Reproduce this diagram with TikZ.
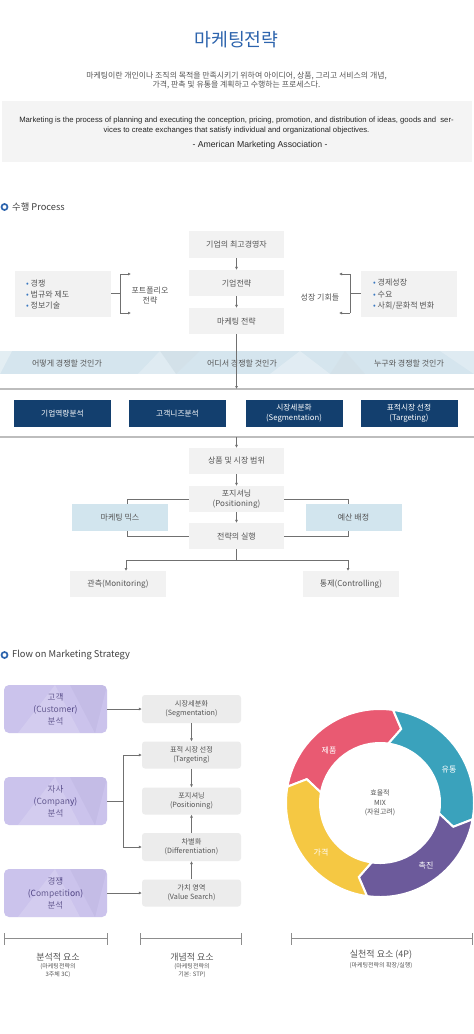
\documentclass[tikz,border=0pt]{standalone}
\usepackage{fontspec}
\setmainfont{Noto Sans CJK KR}
\newfontfamily\arial{Liberation Sans}
\usetikzlibrary{arrows.meta,calc}
\pgfdeclarelayer{bgzero}
\pgfdeclarelayer{bgone}
\pgfsetlayers{bgzero,bgone,main}
\definecolor{titleblue}{HTML}{2D64AD}
\definecolor{boxgray}{HTML}{F2F2F2}
\definecolor{quotegray}{HTML}{F4F4F4}
\definecolor{flowgray}{HTML}{ECECEC}
\definecolor{txtgray}{HTML}{555555}
\definecolor{linegray}{HTML}{707070}
\definecolor{sepgray}{HTML}{BDBDBD}
\definecolor{bandblue}{HTML}{D5E5EE}
\definecolor{navy}{HTML}{133F6E}
\definecolor{lightblue}{HTML}{D2E5EE}
\definecolor{purp}{HTML}{CBC3EC}
\definecolor{purptext}{HTML}{4B3F80}
\definecolor{bulletblue}{HTML}{3A78C0}
\definecolor{ringred}{HTML}{E95A72}
\definecolor{ringteal}{HTML}{3AA2BC}
\definecolor{ringpurple}{HTML}{6C5A9B}
\definecolor{ringyellow}{HTML}{F5C843}
\begin{document}
\begin{tikzpicture}[x=1pt,y=-1pt,
  gbox/.style={fill=boxgray, minimum width=95pt, minimum height=26pt, inner sep=0pt, align=center, text=txtgray, font=\fontsize{8}{10}\selectfont},
  navybox/.style={fill=navy, minimum width=97pt, minimum height=27pt, inner sep=0pt, align=center, text=white, font=\fontsize{7.7}{9.5}\selectfont},
  lbbox/.style={fill=lightblue, minimum width=96pt, minimum height=27pt, inner sep=0pt, align=center, text=txtgray, font=\fontsize{8}{10}\selectfont},
  fbox/.style={fill=flowgray, rounded corners=3pt, minimum width=99pt, minimum height=27pt, inner sep=0pt, align=center, text=txtgray, font=\fontsize{7.2}{9}\selectfont},
  pbox/.style={fill=purp, rounded corners=5pt, minimum width=103pt, minimum height=48pt, inner sep=0pt, align=center, text=purptext, font=\fontsize{8.5}{12}\selectfont},
  plain/.style={inner sep=0pt, align=center, text=txtgray, font=\fontsize{8}{10}\selectfont},
  conn/.style={draw=linegray, line width=0.6pt},
  arr/.style={conn, -{Latex[length=3pt,width=3pt]}},
  sepline/.style={draw=sepgray, line width=1.2pt},
  brk/.style={draw=linegray!80, line width=0.7pt},
  ringlbl/.style={inner sep=0pt, text=white, font=\fontsize{8}{10}\selectfont},
  hdr/.style={inner sep=0pt, anchor=west, text=black!75, font=\fontsize{9.3}{11}\selectfont}
]
\begin{pgfonlayer}{bgzero}
\fill[white] (0,0) rectangle (474,1034);
\end{pgfonlayer}
\useasboundingbox (0,0) rectangle (474,1034);

% ---------- header ----------
\node[inner sep=0pt, text=titleblue, font=\fontsize{18.3}{21}\selectfont] (title) at (236.5,40) {마케팅전략};
\node[plain, font=\fontsize{7.9}{9}\selectfont] (desc) at (236.5,80) {마케팅이란 개인이나 조직의 목적을 만족시키기 위하여 아이디어, 상품, 그리고 서비스의 개념,\\가격, 판촉 및 유통을 계획하고 수행하는 프로세스다.};
\fill[quotegray] (2,101) rectangle (472,162);
\node[plain, text=black!85, font=\arial\fontsize{7.7}{9.2}\selectfont] (quote) at (236.5,125.5) {Marketing is the process of planning and executing the conception, pricing, promotion, and distribution of ideas, goods and \ ser-\\vices to create exchanges that satisfy individual and organizational objectives.};
\node[plain, text=black!85, font=\arial\fontsize{8.7}{10}\selectfont] (assoc) at (260,145) {- American Marketing Association -};

% ---------- section 1 ----------
\draw[titleblue, line width=1.7pt] (4.5,207) circle (3pt);
\node[hdr] (h1) at (12,207) {수행 Process};

\node[gbox, minimum height=27pt] (ceo) at (236.5,244.5) {기업의 최고경영자};
\node[gbox] (corp) at (236.5,283) {기업전략};
\node[gbox] (mkt) at (236.5,321) {마케팅 전략};

\node[gbox, minimum width=96pt, minimum height=46pt] (lbox) at (63,294) {};
\node[plain, anchor=west, align=left, font=\fontsize{8}{11.3}\selectfont] (ltxt) at (26,294.5) {\textcolor{bulletblue}{•} 경쟁\\\textcolor{bulletblue}{•} 법규와 제도\\\textcolor{bulletblue}{•} 정보기술};
\node[gbox, minimum width=96pt, minimum height=46pt] (rbox) at (409,294) {};
\node[plain, anchor=west, align=left, font=\fontsize{8}{11.3}\selectfont] (rtxt) at (373,294.5) {\textcolor{bulletblue}{•} 경제성장\\\textcolor{bulletblue}{•} 수요\\\textcolor{bulletblue}{•} 사회/문화적 변화};

\node[plain, font=\fontsize{8}{10}\selectfont] (port) at (150,295) {포트폴리오\\전략};
\node[plain] (grow) at (320,297) {성장 기회들};

\coordinate (lj) at (120,293);
\coordinate (lt) at (120,274);
\coordinate (lb) at (120,313);
\coordinate (lta) at (131,274);
\coordinate (lba) at (131,313);
\draw[conn] (lbox.east |- lj) -- (lj);
\draw[conn] (lt) -- (lb);
\draw[arr] (lt) -- (lta);
\draw[arr] (lb) -- (lba);

\coordinate (rj) at (350,293);
\coordinate (rt) at (350,274);
\coordinate (rb) at (350,313);
\coordinate (rta) at (339,274);
\coordinate (rba) at (339,313);
\draw[conn] (rbox.west |- rj) -- (rj);
\draw[conn] (rt) -- (rb);
\draw[arr] (rt) -- (rta);
\draw[arr] (rb) -- (rba);

\draw[arr] (ceo) -- (corp);
\draw[arr] (corp) -- (mkt);

% band
\begin{pgfonlayer}{bgzero}
\fill[bandblue] (0,351) rectangle (474,374);
\begin{scope}
\clip (0,351) rectangle (474,374);
\fill[white, opacity=0.35] (0,351) -- (12,351) -- (0,374) -- cycle;
\fill[white, opacity=0.25] (138,374) -- (160,351) -- (176,374) -- cycle;
\fill[black!20, opacity=0.12] (160,351) -- (200,351) -- (176,374) -- cycle;
\fill[white, opacity=0.3] (300,351) -- (330,374) -- (270,374) -- cycle;
\fill[black!20, opacity=0.12] (330,374) -- (345,351) -- (365,374) -- cycle;
\fill[white, opacity=0.25] (440,351) -- (474,351) -- (474,374) -- cycle;
\end{scope}
\end{pgfonlayer}
\node[plain] (how) at (67,363) {어떻게 경쟁할 것인가};
\node[plain] (where) at (242,363) {어디서 경쟁할 것인가};
\node[plain] (who) at (409,363) {누구와 경쟁할 것인가};

\coordinate (l1) at (236.5,389);
\coordinate (l2) at (236.5,437);
\draw[sepline] (0,389) -- (474,389);
\draw[sepline] (0,437) -- (474,437);
\draw[arr] (mkt) -- (l1);

\node[navybox] (n1) at (62.5,413.5) {기업역량분석};
\node[navybox] (n2) at (177.5,413.5) {고객니즈분석};
\node[navybox] (n3) at (294,413.5) {시장세분화\\(Segmentation)};
\node[navybox] (n4) at (409,413.5) {표적시장 선정\\(Targeting)};

% ---------- section 2 ----------
\node[gbox] (scope) at (236.5,461) {상품 및 시장 범위};
\node[gbox] (pos) at (236.5,499) {포지셔닝\\(Positioning)};
\node[gbox] (exe) at (236.5,536) {전략의 실행};
\node[lbbox] (mix) at (120,517.5) {마케팅 믹스};
\node[lbbox] (budget) at (353.5,517.5) {예산 배정};
\node[gbox, minimum width=96pt] (mon) at (118,584) {관측(Monitoring)};
\node[gbox, minimum width=96pt] (ctrl) at (351,584) {통제(Controlling)};

\draw[arr] (l2) -- (scope);
\draw[arr] (scope) -- (pos);
\draw[arr] (pos) -- (exe);

\coordinate (brL) at (127,517);
\coordinate (brR) at (348,517);
\begin{pgfonlayer}{bgone}
\draw[conn] (pos.west) -| (brL) |- (exe.west);
\draw[conn] (pos.east) -| (brR) |- (exe.east);
\end{pgfonlayer}

\coordinate (jn) at (236.5,560);
\coordinate (monT) at (126,571);
\coordinate (ctrlT) at (348,571);
\draw[conn] (exe) -- (jn);
\draw[arr] (jn) -| (monT);
\draw[arr] (jn) -| (ctrlT);

% ---------- section 3 ----------
\draw[titleblue, line width=1.7pt] (4.5,655) circle (3pt);
\node[hdr] (h2) at (12,655) {Flow on Marketing Strategy};

\node[pbox] (cust) at (55.5,709) {고객\\(Customer)\\분석};
\node[pbox] (comp) at (55.5,801) {자사\\(Company)\\분석};
\node[pbox] (compet) at (55.5,893) {경쟁\\(Competition)\\분석};
\foreach \yy in {685,777,869}{
  \begin{scope}
  \clip[rounded corners=5pt] (4,\yy) rectangle (107,\yy+48);
  \fill[white, opacity=0.16] (18,\yy+48) -- (55,\yy) -- (80,\yy+48) -- cycle;
  \fill[purptext, opacity=0.05] (70,\yy) -- (95,\yy+48) -- (107,\yy) -- cycle;
  \end{scope}
}

\node[fbox, minimum height=28pt] (seg) at (191.5,709) {시장세분화\\(Segmentation)};
\node[fbox] (tgt) at (191.5,755) {표적 시장 선정\\(Targeting)};
\node[fbox] (posf) at (191.5,801) {포지셔닝\\(Positioning)};
\node[fbox, minimum height=28pt] (diff) at (191.5,847) {차별화\\(Differentiation)};
\node[fbox] (val) at (191.5,893) {가치 영역\\(Value Search)};

\draw[arr] (cust) -- (seg);
\draw[arr] (seg) -- (tgt);
\draw[arr] (tgt) -- (posf);
\draw[arr] (diff) -- (posf);
\draw[arr] (val) -- (diff);
\draw[arr] (compet) -- (val);

\coordinate (cj) at (123,801);
\coordinate (cjt) at (123,755);
\coordinate (cjb) at (123,847);
\draw[conn] (comp) -- (cj);
\draw[conn] (cjt) -- (cjb);
\draw[arr] (cjt) -- (tgt);
\draw[arr] (cjb) -- (diff);

% ring
\begin{scope}[shift={(380,803)}, yscale=-1]
\foreach \s/\e/\c in {170/82/ringred, 82/-10/ringteal, -10/-98/ringpurple, 262/170/ringyellow}{
  \fill[\c, draw=white, line width=2pt, line join=miter]
    (\s:94) arc[start angle=\s, end angle=\e, radius=94]
    -- ({\e-8}:77) -- (\e:60)
    arc[start angle=\e, end angle=\s, radius=60]
    -- ({\s-8}:77) -- cycle;
}
\end{scope}
\node[ringlbl] (r1) at (329,750) {제품};
\node[ringlbl] (r2) at (449,770) {유통};
\node[ringlbl] (r3) at (426,865) {촉진};
\node[ringlbl] (r4) at (321,852) {가격};
\node[plain, font=\fontsize{7}{9.5}\selectfont] (center) at (380,803) {효율적\\MIX\\(자원고려)};

% brackets
\coordinate (b1a) at (4,938);
\coordinate (b1b) at (107,938);
\coordinate (b2a) at (140,938);
\coordinate (b2b) at (241,938);
\coordinate (b3a) at (291,938);
\coordinate (b3b) at (472,938);
\foreach \p/\q in {b1a/b1b,b2a/b2b,b3a/b3b}{
  \draw[brk] (\p) -- (\q);
  \draw[brk] ($(\p)+(0,-5)$) -- ($(\p)+(0,7)$);
  \draw[brk] ($(\q)+(0,-5)$) -- ($(\q)+(0,7)$);
}
\node[plain, font=\fontsize{9}{10}\selectfont] (k1) at (58,957) {분석적 요소};
\node[plain, font=\fontsize{6}{8.3}\selectfont] (k1s) at (58,970.5) {(마케팅전략의\\3주체 3C)};
\node[plain, font=\fontsize{9}{10}\selectfont] (k2) at (192,957) {개념적 요소};
\node[plain, font=\fontsize{6}{8.3}\selectfont] (k2s) at (192,970.5) {(마케팅전략의\\기본: STP)};
\node[plain, font=\fontsize{9}{10}\selectfont] (k3) at (381,955) {실천적 요소 (4P)};
\node[plain, font=\fontsize{6}{8}\selectfont] (k3s) at (381,965.5) {(마케팅전략의 확장/실행)};
\end{tikzpicture}
\end{document}
